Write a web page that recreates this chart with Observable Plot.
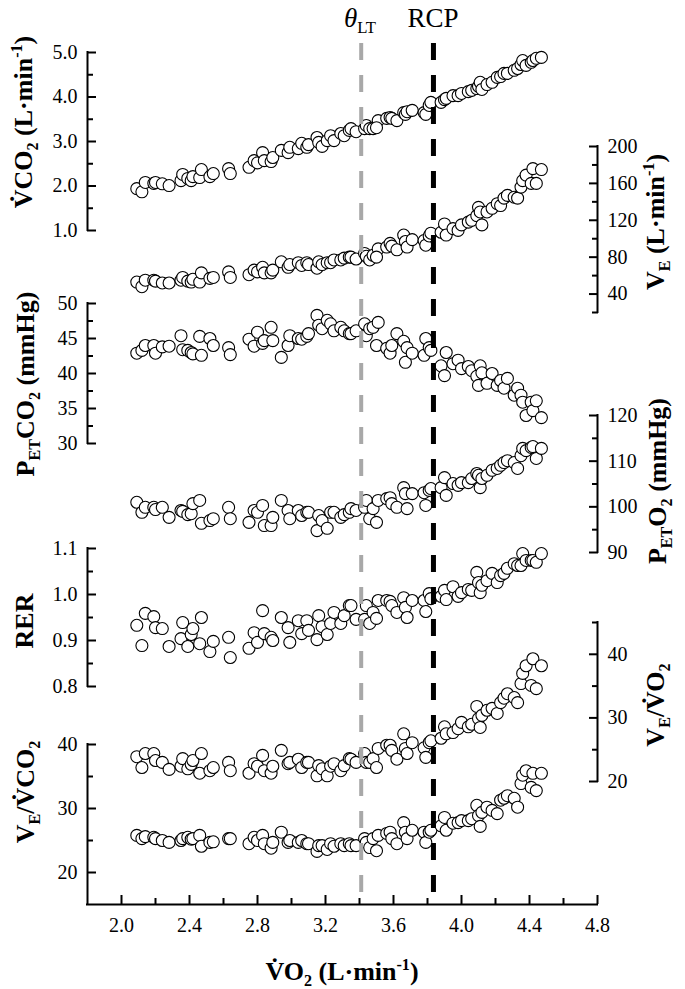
<!DOCTYPE html>
<html><head><meta charset="utf-8">
<script src="https://cdn.jsdelivr.net/npm/d3@7"></script>
<script src="https://cdn.jsdelivr.net/npm/@observablehq/plot@0.6"></script>
<style>
html,body{margin:0;padding:0;background:#fff;}
#chart{position:relative;width:685px;height:989px;overflow:hidden;font-family:"Liberation Serif","Times New Roman",serif;color:#000;background:#fff;}
#chart svg{position:absolute;left:0;top:0;}
#chart svg text{font-family:"Liberation Serif","Times New Roman",serif !important;}
.lab{position:absolute;white-space:nowrap;font-weight:bold;font-size:26px;line-height:1;transform:translate(-50%,-50%) rotate(-90deg);}
.lab sub,.lab sup,.top sub{font-size:0.62em;line-height:0;}
.xlab{position:absolute;white-space:nowrap;font-weight:bold;font-size:26px;line-height:1;transform:translate(-50%,-50%);}
.top{position:absolute;white-space:nowrap;font-size:27px;line-height:1;transform:translate(-50%,-50%);}
</style>
</head><body>
<div id="chart"></div>
<script>
// ---- data (VO2 in L/min, shared by all series) ----
const vo2 = [2.09,2.12,2.14,2.19,2.20,2.24,2.28,2.35,2.36,2.39,2.41,2.42,2.46,2.47,2.52,2.54,2.63,2.64,2.75,2.78,
  2.80,2.83,2.84,2.88,2.89,2.94,2.98,2.99,3.04,3.06,3.09,3.10,3.15,3.16,3.18,3.21,3.23,3.25,3.29,3.31,
  3.34,3.35,3.38,3.43,3.44,3.46,3.48,3.51,3.50,3.56,3.58,3.59,3.62,3.66,3.67,3.68,3.71,3.78,3.79,3.81,
  3.82,3.88,3.90,3.91,3.95,3.98,4.00,4.04,4.06,4.09,4.10,4.11,4.12,4.15,4.18,4.21,4.23,4.25,4.27,4.31,
  4.33,4.35,4.36,4.38,4.41,4.42,4.44,4.47];
const vco2 = [1.94,1.87,2.08,2.06,2.08,2.05,2.01,2.12,2.26,2.17,2.12,2.21,2.19,2.37,2.21,2.28,2.39,2.28,2.42,2.57,
  2.52,2.75,2.57,2.55,2.64,2.80,2.75,2.87,2.84,2.96,2.87,2.93,3.09,2.98,2.89,3.02,3.13,3.02,3.18,3.13,
  3.25,3.29,3.22,3.29,3.36,3.29,3.29,3.47,3.31,3.52,3.54,3.52,3.47,3.65,3.61,3.67,3.70,3.65,3.61,3.81,
  3.88,3.88,3.94,3.97,4.03,4.03,4.08,4.12,4.15,4.19,4.24,4.33,4.17,4.28,4.33,4.44,4.46,4.53,4.53,4.60,
  4.64,4.73,4.82,4.71,4.78,4.82,4.87,4.89];
const ve = [53,48,55,55,54,52,52,55,58,54,53,56,53,63,57,58,64,58,61,66,
  64,69,63,63,66,75,69,72,74,71,74,72,68,75,72,74,74,77,77,79,
  80,80,78,84,81,77,82,89,80,91,95,92,88,104,97,91,99,98,93,103,
  106,107,116,104,111,109,115,118,120,125,134,129,115,129,133,138,136,144,147,145,
  144,156,163,169,160,176,160,175];
const petco2 = [42.9,43.3,44.0,44.0,42.9,43.8,43.9,45.4,43.4,43.3,43.0,42.8,45.3,42.6,45.0,44.0,43.7,42.7,44.9,43.9,
  45.9,44.3,44.7,46.6,44.7,42.3,44.0,45.4,45.0,44.9,45.3,45.7,48.3,46.9,46.4,47.6,47.1,46.1,46.6,46.1,
  45.7,45.7,46.1,47.1,45.4,46.4,46.6,47.3,44.0,43.6,42.9,44.0,45.7,44.6,41.6,43.7,42.9,42.6,45.0,43.7,
  43.3,41.1,39.7,43.0,41.4,41.9,40.7,41.0,40.4,39.6,38.3,41.1,40.1,38.6,40.0,38.3,39.0,37.9,39.3,36.9,
  37.9,36.9,35.9,34.0,35.9,34.7,36.1,33.7];
const peto2 = [101.0,98.8,99.9,99.9,99.4,99.9,97.7,99.2,99.0,98.3,98.5,100.7,101.4,96.4,97.0,97.4,99.9,97.4,96.6,99.2,
  98.8,100.3,95.9,95.9,97.7,101.4,99.2,97.4,99.2,98.1,98.8,98.8,94.8,98.1,97.0,95.3,98.8,98.8,97.7,98.3,
  98.8,99.6,99.2,99.9,101.4,97.4,99.6,101.4,96.6,101.8,102.0,100.7,99.9,104.2,102.9,99.6,102.9,103.1,100.3,103.6,
  104.0,104.2,106.4,102.5,105.1,104.7,105.3,105.3,106.2,107.3,106.9,104.2,106.2,106.9,108.0,108.4,109.1,109.7,110.1,109.7,
  108.4,111.2,112.8,112.3,113.0,113.2,110.6,112.8];
const rer = [0.933,0.889,0.959,0.952,0.928,0.926,0.887,0.904,0.939,0.887,0.913,0.926,0.893,0.950,0.876,0.898,0.907,0.863,0.883,0.917,
  0.896,0.965,0.915,0.907,0.900,0.950,0.928,0.896,0.943,0.915,0.943,0.922,0.902,0.954,0.930,0.913,0.937,0.961,0.937,0.954,
  0.976,0.976,0.946,0.946,0.976,0.937,0.961,0.987,0.948,0.987,0.985,0.976,0.961,0.993,0.972,0.950,0.987,0.987,0.963,1.002,
  0.991,0.996,1.009,0.989,1.017,0.996,1.004,1.011,1.009,1.048,1.026,1.004,1.020,1.030,1.046,1.026,1.041,1.046,1.057,1.067,
  1.063,1.063,1.089,1.074,1.074,1.074,1.070,1.089];
const veVo2 = [23.9,22.2,24.4,24.4,23.3,23.0,21.9,22.4,23.6,22.0,22.7,23.3,21.3,24.4,21.7,22.2,23.0,21.7,21.3,22.8,
  22.4,24.1,21.7,21.3,22.4,24.9,22.8,23.0,23.5,22.2,23.0,23.0,20.9,22.5,22.0,20.9,22.4,22.8,21.7,22.5,
  23.6,23.5,23.0,24.4,23.0,23.0,23.6,25.2,22.2,25.7,25.7,24.9,23.5,27.5,25.2,24.4,26.1,25.3,23.8,26.1,
  26.4,26.8,28.6,27.5,27.7,28.3,29.3,28.6,29.0,31.8,29.9,28.5,30.4,31.2,31.5,30.7,32.4,33.1,33.8,33.2,
  32.4,35.4,37.0,38.2,35.1,39.3,34.6,38.2];
const veVco2 = [25.8,25.3,25.6,25.5,25.3,25.0,24.7,25.0,25.3,25.5,25.2,25.3,25.8,24.1,24.7,24.8,25.3,25.3,24.5,25.5,
  25.0,25.8,24.5,23.8,24.7,26.3,24.7,25.0,24.7,25.0,24.5,24.5,23.3,24.2,24.2,23.6,24.5,24.1,24.5,24.2,
  24.5,24.2,24.2,25.3,24.7,23.9,25.3,25.8,23.4,26.1,26.3,25.3,24.5,27.8,26.3,25.3,26.6,26.3,24.7,26.3,
  26.6,27.3,28.6,26.6,27.7,27.8,28.1,28.1,28.4,30.5,28.9,27.2,29.4,30.2,29.7,29.2,31.3,31.6,32.0,31.6,
  30.2,33.9,35.2,35.9,33.3,35.5,32.8,35.5];

// thresholds (VO2, L/min)
const thresholds = [{name:"θLT", vo2:3.41}, {name:"RCP", vo2:3.835}];

// tick values
const xTicks = [2.0,2.4,2.8,3.2,3.6,4.0,4.4,4.8];
const xMinor = [2.2,2.6,3.0,3.4,3.8,4.2,4.6];
const vco2Ticks = [1,2,3,4,5], vco2Minor = [1.5,2.5,3.5,4.5];
const veTicks = [40,80,120,160,200], veMinor = [20,60,100,140,180];
const petco2Ticks = [30,35,40,45,50], petco2Minor = [32.5,37.5,42.5,47.5];
const peto2Ticks = [90,100,110,120], peto2Minor = [95,105,115];
const rerTicks = [0.8,0.9,1.0,1.1], rerMinor = [0.85,0.95,1.05];
const veVo2Ticks = [20,30,40], veVo2Minor = [25,35,45];
const veVco2Ticks = [20,30,40], veVco2Minor = [25,35];

const rows = vo2.map((x,i) => ({vo2:x, vco2:vco2[i], ve:ve[i], petco2:petco2[i], peto2:peto2[i], rer:rer[i], veVo2:veVo2[i], veVco2:veVco2[i]}));

const W = 685, H = 989, ML = 87, MR = 88, XDOM = [1.8, 4.8];
const f1 = d3.format(".1f");

const panels = [
  {key:"vco2", domain:[1,5], top:52, bottom:230, side:"left", major:vco2Ticks, minor:vco2Minor, fmt:f1},
  {key:"ve", domain:[20,200], top:146, bottom:312, side:"right", major:veTicks, minor:veMinor},
  {key:"petco2", domain:[30,50], top:303, bottom:443, side:"left", major:petco2Ticks, minor:petco2Minor},
  {key:"peto2", domain:[90,120], top:415, bottom:552, side:"right", major:peto2Ticks, minor:peto2Minor},
  {key:"rer", domain:[0.8,1.1], top:548, bottom:686, side:"left", major:rerTicks, minor:rerMinor, fmt:f1},
  {key:"veVo2", domain:[20,45], top:622, bottom:781, side:"right", major:veVo2Ticks, minor:veVo2Minor},
  {key:"veVco2", domain:[15,40], top:744, bottom:904, side:"left", major:veVco2Ticks, minor:veVco2Minor, xaxis:true}
];

const chart = document.getElementById("chart");
const svgStyle = {background:"transparent", fontFamily:"'Liberation Serif', 'Times New Roman', serif", fontSize:"20px", color:"black", overflow:"visible"};

for (const p of panels) {
  const marks = [
    Plot.axisY(p.major, {anchor:p.side, tickSize:-9, tickPadding:19, strokeWidth:2, fontSize:20, label:null, tickFormat:p.fmt || (d => d)}),
    Plot.axisY(p.minor, {anchor:p.side, tickSize:-6, strokeWidth:2, label:null, tickFormat:() => ""}),
    Plot.ruleX([p.side === "left" ? XDOM[0] : XDOM[1]], {y1:p.domain[0], y2:p.domain[1], strokeWidth:2, strokeLinecap:"square"})
  ];
  if (p.xaxis) {
    marks.push(
      Plot.axisX(xTicks, {anchor:"bottom", tickSize:-9, tickPadding:22, strokeWidth:2, fontSize:20, label:null, tickFormat:f1}),
      Plot.axisX(xMinor, {anchor:"bottom", tickSize:-6, strokeWidth:2, label:null, tickFormat:() => ""}),
      Plot.ruleY([p.domain[0]], {x1:XDOM[0], x2:XDOM[1], strokeWidth:2, strokeLinecap:"square"})
    );
  }
  marks.push(Plot.dot(rows, {x:"vo2", y:p.key, r:6, fill:"white", stroke:"black", strokeWidth:1.1}));
  const svg = Plot.plot({
    width:W, height:H, marginLeft:ML, marginRight:MR, marginTop:p.top, marginBottom:H - p.bottom,
    x:{domain:XDOM, axis: p.xaxis ? undefined : null},
    y:{domain:p.domain},
    style:svgStyle,
    marks
  });
  chart.appendChild(svg);
}

// threshold lines on top
const lines = Plot.plot({
  width:W, height:H, marginLeft:ML, marginRight:MR, marginTop:43, marginBottom:H - 904,
  x:{domain:XDOM, axis:null}, y:{domain:[0,1], axis:null},
  style:svgStyle,
  marks:[
    Plot.ruleX(thresholds.filter(d => d.name !== "RCP"), {x:"vo2", stroke:"#a8a8a8", strokeWidth:4, strokeDasharray:"17,15"}),
    Plot.ruleX(thresholds.filter(d => d.name === "RCP"), {x:"vo2", stroke:"black", strokeWidth:5, strokeDasharray:"17,15"})
  ]
});
chart.appendChild(lines);

// labels
function addLabel(cls, html, x, y) {
  const d = document.createElement("div");
  d.className = cls; d.innerHTML = html;
  d.style.left = x + "px"; d.style.top = y + "px";
  chart.appendChild(d);
}
addLabel("lab", "V&#775;CO<sub>2</sub> (L·min<sup>-1</sup>)", 24, 122);
addLabel("lab", "P<sub>ET</sub>CO<sub>2</sub> (mmHg)", 26, 384);
addLabel("lab", "RER", 25, 621);
addLabel("lab", "V<sub>E</sub>/V&#775;CO<sub>2</sub>", 26, 792);
addLabel("lab", "V<sub>E</sub> (L·min<sup>-1</sup>)", 656, 222);
addLabel("lab", "P<sub>ET</sub>O<sub>2</sub> (mmHg)", 658, 481);
addLabel("lab", "V<sub>E</sub>/V&#775;O<sub>2</sub>", 656, 705);
addLabel("xlab", "V&#775;O<sub style='font-size:0.62em;line-height:0'>2</sub> (L·min<sup style='font-size:0.62em;line-height:0'>-1</sup>)", 342, 972);
addLabel("top", "<i>θ</i><sub>LT</sub>", 360, 18);
addLabel("top", "RCP", 433, 18);
</script>
</body></html>
